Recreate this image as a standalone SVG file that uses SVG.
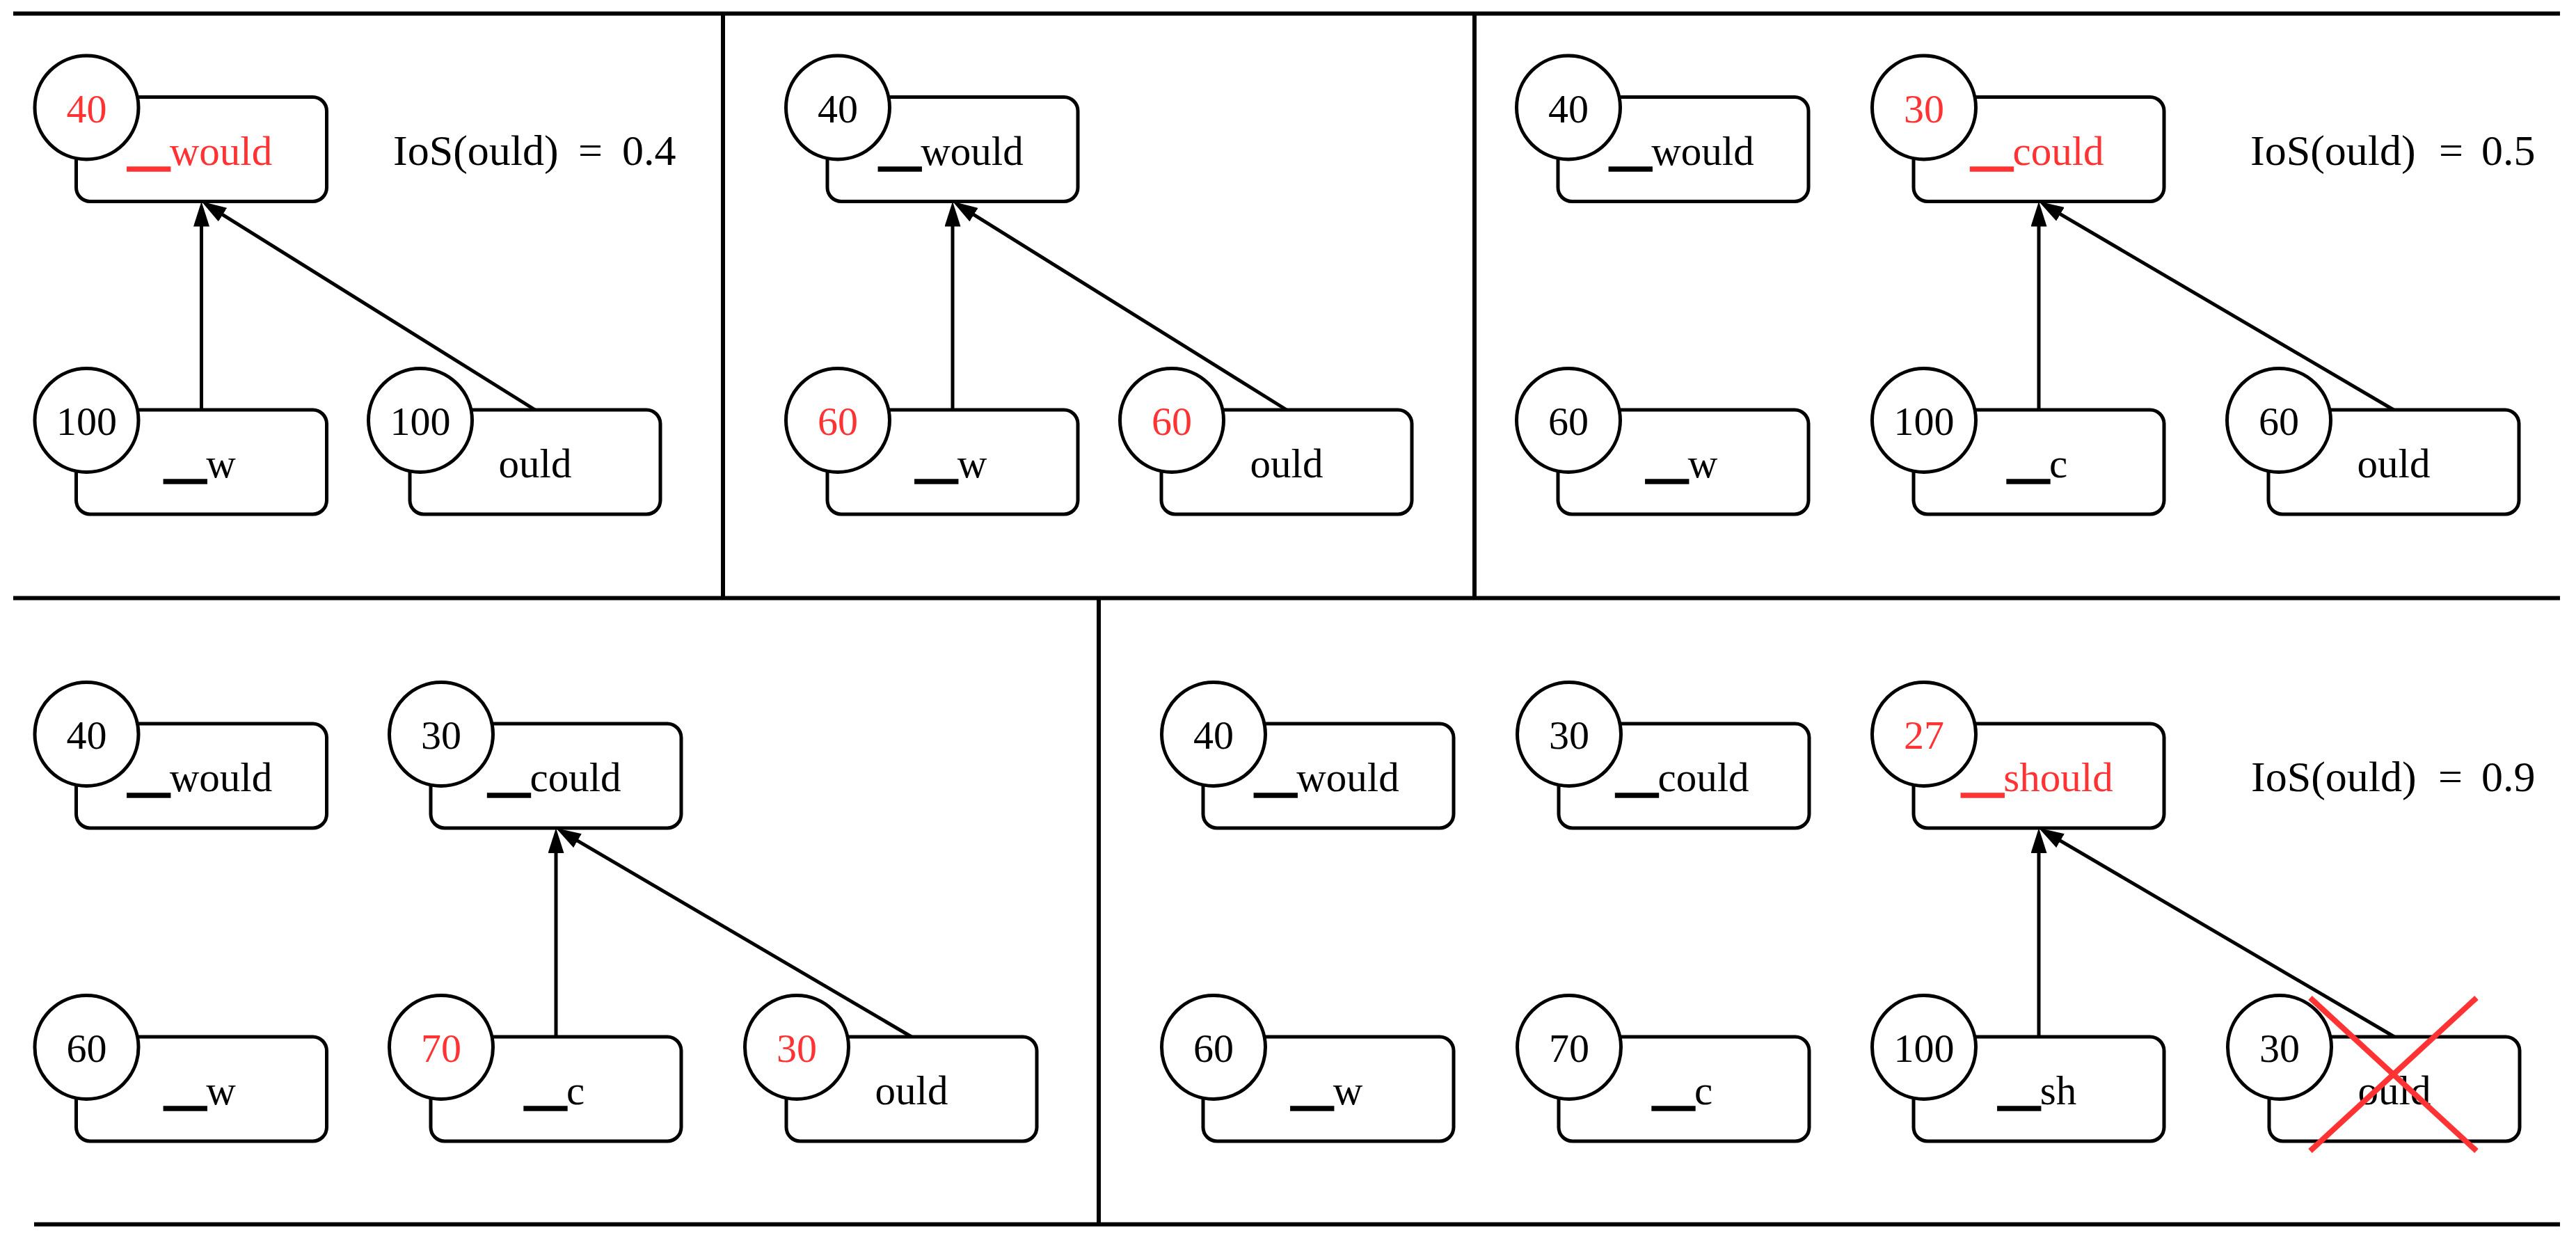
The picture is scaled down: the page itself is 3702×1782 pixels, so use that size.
<svg xmlns="http://www.w3.org/2000/svg" width="3702" height="1782" viewBox="0 0 3702 1782">
<style>
.bg{fill:#fff}
.box{fill:#fff;stroke:#000;stroke-width:5}
.circ{fill:#fff;stroke:#000;stroke-width:5}
.num{font-family:"Liberation Serif","Times New Roman",serif;font-size:58px;text-anchor:middle;fill:#000}
.lbl{font-family:"Liberation Serif","Times New Roman",serif;font-size:59px;text-anchor:middle;fill:#000}
.us{font-size:120px;stroke:#000;stroke-width:1.5}
.red{fill:#ff3333}
.lbl.red .us{stroke:#ff3333}
.ios{font-family:"Liberation Serif","Times New Roman",serif;font-size:62px;fill:#000}
.frame{stroke:#000;stroke-width:6;fill:none}
.edge{stroke:#000;stroke-width:5;fill:none;marker-end:url(#ah)}
.cross{stroke:#ff3333;stroke-width:8;fill:none}
</style>
<defs>
<marker id="ah" viewBox="0 0 36 23" refX="24" refY="11.5" markerWidth="36" markerHeight="23" markerUnits="userSpaceOnUse" orient="auto">
<path d="M0,0 L36,11.5 L0,23 z" fill="#000"/>
</marker>
</defs>
<rect class="bg" x="0" y="0" width="3702" height="1782"/>
<g id="frame">
<line class="frame" x1="19" y1="19.5" x2="3679" y2="19.5"/>
<line class="frame" x1="19" y1="859.5" x2="3679" y2="859.5"/>
<line class="frame" x1="49" y1="1759.5" x2="3679" y2="1759.5"/>
<line class="frame" x1="1039" y1="19.5" x2="1039" y2="859.5"/>
<line class="frame" x1="2119" y1="19.5" x2="2119" y2="859.5"/>
<line class="frame" x1="1579" y1="859.5" x2="1579" y2="1759.5"/>
</g>
<g id="connectors">
<line class="edge" x1="289.5" y1="589" x2="289.5" y2="301.5"/>
<line class="edge" x1="769" y1="589" x2="299.7" y2="295.9"/>
<line class="edge" x1="1369" y1="589" x2="1369" y2="301.5"/>
<line class="edge" x1="1849" y1="589" x2="1379.2" y2="295.9"/>
<line class="edge" x1="2930" y1="589" x2="2930" y2="301.5"/>
<line class="edge" x1="3440" y1="589" x2="2940.3" y2="295.6"/>
<line class="edge" x1="799" y1="1490" x2="799" y2="1202"/>
<line class="edge" x1="1310" y1="1490" x2="809.3" y2="1196.1"/>
<line class="edge" x1="2930" y1="1490" x2="2930" y2="1202"/>
<line class="edge" x1="3441" y1="1490" x2="2940.3" y2="1196.1"/>
</g>
<g id="t1-would"><rect class="box" x="109.5" y="139.5" width="360" height="150" rx="20"/><circle class="circ" cx="124.5" cy="154.5" r="74.5"/><text class="num red" x="124.5" y="175.5">40</text><text class="lbl red" x="287.5" y="236.5"><tspan class="us" dy="-7">_</tspan><tspan dy="7">would</tspan></text></g>
<g id="t1-w"><rect class="box" x="109.5" y="589" width="360" height="150" rx="20"/><circle class="circ" cx="124.5" cy="604" r="74.5"/><text class="num" x="124.5" y="625">100</text><text class="lbl" x="287.5" y="686"><tspan class="us" dy="-7">_</tspan><tspan dy="7">w</tspan></text></g>
<g id="t1-ould"><rect class="box" x="589" y="589" width="360" height="150" rx="20"/><circle class="circ" cx="604" cy="604" r="74.5"/><text class="num" x="604" y="625">100</text><text class="lbl" x="769" y="686">ould</text></g>
<text id="t1-ios" class="ios" y="236.5"><tspan x="565">IoS(ould)</tspan> <tspan x="831">=</tspan> <tspan x="894">0.4</tspan></text>
<g id="t2-would"><rect class="box" x="1189" y="139.5" width="360" height="150" rx="20"/><circle class="circ" cx="1204" cy="154.5" r="74.5"/><text class="num" x="1204" y="175.5">40</text><text class="lbl" x="1367" y="236.5"><tspan class="us" dy="-7">_</tspan><tspan dy="7">would</tspan></text></g>
<g id="t2-w"><rect class="box" x="1189" y="589" width="360" height="150" rx="20"/><circle class="circ" cx="1204" cy="604" r="74.5"/><text class="num red" x="1204" y="625">60</text><text class="lbl" x="1367" y="686"><tspan class="us" dy="-7">_</tspan><tspan dy="7">w</tspan></text></g>
<g id="t2-ould"><rect class="box" x="1669" y="589" width="360" height="150" rx="20"/><circle class="circ" cx="1684" cy="604" r="74.5"/><text class="num red" x="1684" y="625">60</text><text class="lbl" x="1849" y="686">ould</text></g>
<g id="t3-would"><rect class="box" x="2239" y="139.5" width="360" height="150" rx="20"/><circle class="circ" cx="2254" cy="154.5" r="74.5"/><text class="num" x="2254" y="175.5">40</text><text class="lbl" x="2417" y="236.5"><tspan class="us" dy="-7">_</tspan><tspan dy="7">would</tspan></text></g>
<g id="t3-could"><rect class="box" x="2750" y="139.5" width="360" height="150" rx="20"/><circle class="circ" cx="2765" cy="154.5" r="74.5"/><text class="num red" x="2765" y="175.5">30</text><text class="lbl red" x="2928" y="236.5"><tspan class="us" dy="-7">_</tspan><tspan dy="7">could</tspan></text></g>
<g id="t3-w"><rect class="box" x="2239" y="589" width="360" height="150" rx="20"/><circle class="circ" cx="2254" cy="604" r="74.5"/><text class="num" x="2254" y="625">60</text><text class="lbl" x="2417" y="686"><tspan class="us" dy="-7">_</tspan><tspan dy="7">w</tspan></text></g>
<g id="t3-c"><rect class="box" x="2750" y="589" width="360" height="150" rx="20"/><circle class="circ" cx="2765" cy="604" r="74.5"/><text class="num" x="2765" y="625">100</text><text class="lbl" x="2928" y="686"><tspan class="us" dy="-7">_</tspan><tspan dy="7">c</tspan></text></g>
<g id="t3-ould"><rect class="box" x="3260" y="589" width="360" height="150" rx="20"/><circle class="circ" cx="3275" cy="604" r="74.5"/><text class="num" x="3275" y="625">60</text><text class="lbl" x="3440" y="686">ould</text></g>
<text id="t3-ios" class="ios" y="236.5"><tspan x="3234">IoS(ould)</tspan> <tspan x="3505">=</tspan> <tspan x="3566">0.5</tspan></text>
<g id="b1-would"><rect class="box" x="109.5" y="1040" width="360" height="150" rx="20"/><circle class="circ" cx="124.5" cy="1055" r="74.5"/><text class="num" x="124.5" y="1076">40</text><text class="lbl" x="287.5" y="1137"><tspan class="us" dy="-7">_</tspan><tspan dy="7">would</tspan></text></g>
<g id="b1-could"><rect class="box" x="619" y="1040" width="360" height="150" rx="20"/><circle class="circ" cx="634" cy="1055" r="74.5"/><text class="num" x="634" y="1076">30</text><text class="lbl" x="797" y="1137"><tspan class="us" dy="-7">_</tspan><tspan dy="7">could</tspan></text></g>
<g id="b1-w"><rect class="box" x="109.5" y="1490" width="360" height="150" rx="20"/><circle class="circ" cx="124.5" cy="1505" r="74.5"/><text class="num" x="124.5" y="1526">60</text><text class="lbl" x="287.5" y="1587"><tspan class="us" dy="-7">_</tspan><tspan dy="7">w</tspan></text></g>
<g id="b1-c"><rect class="box" x="619" y="1490" width="360" height="150" rx="20"/><circle class="circ" cx="634" cy="1505" r="74.5"/><text class="num red" x="634" y="1526">70</text><text class="lbl" x="797" y="1587"><tspan class="us" dy="-7">_</tspan><tspan dy="7">c</tspan></text></g>
<g id="b1-ould"><rect class="box" x="1130" y="1490" width="360" height="150" rx="20"/><circle class="circ" cx="1145" cy="1505" r="74.5"/><text class="num red" x="1145" y="1526">30</text><text class="lbl" x="1310" y="1587">ould</text></g>
<g id="b2-would"><rect class="box" x="1729" y="1040" width="360" height="150" rx="20"/><circle class="circ" cx="1744" cy="1055" r="74.5"/><text class="num" x="1744" y="1076">40</text><text class="lbl" x="1907" y="1137"><tspan class="us" dy="-7">_</tspan><tspan dy="7">would</tspan></text></g>
<g id="b2-could"><rect class="box" x="2240" y="1040" width="360" height="150" rx="20"/><circle class="circ" cx="2255" cy="1055" r="74.5"/><text class="num" x="2255" y="1076">30</text><text class="lbl" x="2418" y="1137"><tspan class="us" dy="-7">_</tspan><tspan dy="7">could</tspan></text></g>
<g id="b2-should"><rect class="box" x="2750" y="1040" width="360" height="150" rx="20"/><circle class="circ" cx="2765" cy="1055" r="74.5"/><text class="num red" x="2765" y="1076">27</text><text class="lbl red" x="2928" y="1137"><tspan class="us" dy="-7">_</tspan><tspan dy="7">should</tspan></text></g>
<g id="b2-w"><rect class="box" x="1729" y="1490" width="360" height="150" rx="20"/><circle class="circ" cx="1744" cy="1505" r="74.5"/><text class="num" x="1744" y="1526">60</text><text class="lbl" x="1907" y="1587"><tspan class="us" dy="-7">_</tspan><tspan dy="7">w</tspan></text></g>
<g id="b2-c"><rect class="box" x="2240" y="1490" width="360" height="150" rx="20"/><circle class="circ" cx="2255" cy="1505" r="74.5"/><text class="num" x="2255" y="1526">70</text><text class="lbl" x="2418" y="1587"><tspan class="us" dy="-7">_</tspan><tspan dy="7">c</tspan></text></g>
<g id="b2-sh"><rect class="box" x="2750" y="1490" width="360" height="150" rx="20"/><circle class="circ" cx="2765" cy="1505" r="74.5"/><text class="num" x="2765" y="1526">100</text><text class="lbl" x="2928" y="1587"><tspan class="us" dy="-7">_</tspan><tspan dy="7">sh</tspan></text></g>
<g id="b2-ould"><rect class="box" x="3261" y="1490" width="360" height="150" rx="20"/><circle class="circ" cx="3276" cy="1505" r="74.5"/><text class="num" x="3276" y="1526">30</text><text class="lbl" x="3441" y="1587">ould</text></g>
<text id="b2-ios" class="ios" y="1136.5"><tspan x="3235">IoS(ould)</tspan> <tspan x="3504">=</tspan> <tspan x="3566">0.9</tspan></text>
<g id="b2-cross">
<line class="cross" x1="3320" y1="1434" x2="3559" y2="1654"/>
<line class="cross" x1="3559" y1="1434" x2="3320" y2="1654"/>
</g>
</svg>
